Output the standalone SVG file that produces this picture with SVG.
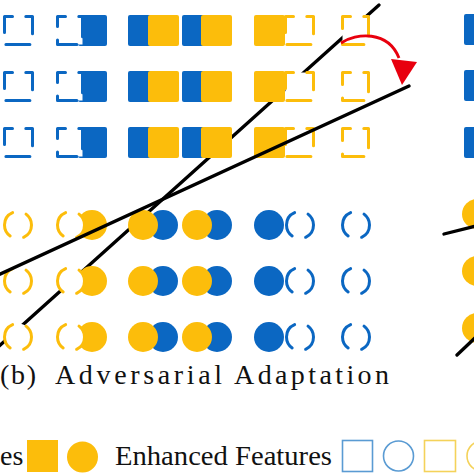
<svg xmlns="http://www.w3.org/2000/svg" width="474" height="474" viewBox="0 0 474 474">
<style>
.b{fill:#0b67c2}
.y{fill:#fcbd0b}
.dsb{fill:#fff;stroke:#0b67c2;stroke-width:3;stroke-dasharray:24 13.3;stroke-dashoffset:16;stroke-linecap:round;stroke-linejoin:round}
.dsy{fill:#fff;stroke:#fcbd0b;stroke-width:3;stroke-dasharray:24 13.3;stroke-dashoffset:16;stroke-linecap:round;stroke-linejoin:round}
.dcb{fill:#fff;stroke:#0b67c2;stroke-width:3;stroke-dasharray:28.3 14.1;stroke-dashoffset:13;stroke-linecap:round}
.dcy{fill:#fff;stroke:#fcbd0b;stroke-width:3;stroke-dasharray:28.3 14.1;stroke-dashoffset:13;stroke-linecap:round}
.ln{stroke:#000;stroke-width:3.3;fill:none;stroke-linecap:round}
.t{font-family:"Liberation Serif","DejaVu Serif",serif;fill:#111}
.ob{fill:none;stroke:#5a9bd3;stroke-width:1.6}
.oy{fill:none;stroke:#f4d25a;stroke-width:1.6}
</style>
<rect width="474" height="474" fill="#fff"/>
<g id="connectors-behind">
<line class="ln" x1="379" y1="5" x2="-2" y2="347"/>
</g>
<g id="square-rows">
<g id="sq-row1">
<rect class="dsb" x="4.5" y="16.5" width="28" height="28"/>
<rect class="b" x="78" y="15" width="29" height="31" rx="2"/>
<rect class="dsb" x="57.5" y="16.5" width="25" height="28"/>
<rect class="b" x="128" y="15" width="31" height="31" rx="2"/>
<rect class="y" x="148" y="15" width="31" height="31" rx="2"/>
<rect class="b" x="182" y="15" width="31" height="31" rx="2"/>
<rect class="y" x="201" y="15" width="31" height="31" rx="2"/>
<rect class="dsy" x="285.5" y="16.5" width="28" height="28"/>
<rect class="y" x="254" y="15" width="31" height="31" rx="2"/>
<rect class="dsy" x="342.5" y="16.5" width="26" height="28"/>
<rect class="b" x="464" y="14" width="31" height="31" rx="2"/>
</g>
<g id="sq-row2">
<rect class="dsb" x="4.5" y="72.5" width="28" height="28"/>
<rect class="b" x="78" y="71" width="29" height="31" rx="2"/>
<rect class="dsb" x="57.5" y="72.5" width="25" height="28"/>
<rect class="b" x="128" y="71" width="31" height="31" rx="2"/>
<rect class="y" x="148" y="71" width="31" height="31" rx="2"/>
<rect class="b" x="182" y="71" width="31" height="31" rx="2"/>
<rect class="y" x="201" y="71" width="31" height="31" rx="2"/>
<rect class="dsy" x="285.5" y="72.5" width="28" height="28"/>
<rect class="y" x="254" y="71" width="31" height="31" rx="2"/>
<rect class="dsy" x="342.5" y="72.5" width="26" height="28"/>
<rect class="b" x="464" y="70" width="31" height="31" rx="2"/>
</g>
<g id="sq-row3">
<rect class="dsb" x="4.5" y="128.5" width="28" height="28"/>
<rect class="b" x="78" y="127" width="29" height="31" rx="2"/>
<rect class="dsb" x="57.5" y="128.5" width="25" height="28"/>
<rect class="b" x="128" y="127" width="31" height="31" rx="2"/>
<rect class="y" x="148" y="127" width="31" height="31" rx="2"/>
<rect class="b" x="182" y="127" width="31" height="31" rx="2"/>
<rect class="y" x="201" y="127" width="31" height="31" rx="2"/>
<rect class="dsy" x="285.5" y="128.5" width="28" height="28"/>
<rect class="y" x="254" y="127" width="31" height="31" rx="2"/>
<rect class="dsy" x="342.5" y="128.5" width="26" height="28"/>
<rect class="b" x="464" y="127" width="31" height="31" rx="2"/>
</g>
</g>
<g id="circle-rows">
<g id="ci-row1">
<circle class="dcy" cx="18" cy="225" r="13.5"/>
<circle class="y" cx="92" cy="225" r="15"/>
<circle class="dcy" cx="71" cy="225" r="13.5"/>
<circle class="b" cx="163" cy="225" r="15"/>
<circle class="y" cx="143" cy="225" r="15"/>
<circle class="b" cx="217" cy="225" r="15"/>
<circle class="y" cx="197" cy="225" r="15"/>
<circle class="dcb" cx="300" cy="225" r="13.5"/>
<circle class="b" cx="269" cy="225" r="15"/>
<circle class="dcb" cx="356" cy="225" r="13.5"/>
<circle class="y" cx="477" cy="214" r="15"/>
</g>
<g id="ci-row2">
<circle class="dcy" cx="18" cy="281" r="13.5"/>
<circle class="y" cx="92" cy="281" r="15"/>
<circle class="dcy" cx="71" cy="281" r="13.5"/>
<circle class="b" cx="163" cy="281" r="15"/>
<circle class="y" cx="143" cy="281" r="15"/>
<circle class="b" cx="217" cy="281" r="15"/>
<circle class="y" cx="197" cy="281" r="15"/>
<circle class="dcb" cx="300" cy="281" r="13.5"/>
<circle class="b" cx="269" cy="281" r="15"/>
<circle class="dcb" cx="356" cy="281" r="13.5"/>
<circle class="y" cx="477" cy="271" r="15"/>
</g>
<g id="ci-row3">
<circle class="dcy" cx="18" cy="337" r="13.5"/>
<circle class="y" cx="92" cy="337" r="15"/>
<circle class="dcy" cx="71" cy="337" r="13.5"/>
<circle class="b" cx="163" cy="337" r="15"/>
<circle class="y" cx="143" cy="337" r="15"/>
<circle class="b" cx="217" cy="337" r="15"/>
<circle class="y" cx="197" cy="337" r="15"/>
<circle class="dcb" cx="300" cy="337" r="13.5"/>
<circle class="b" cx="269" cy="337" r="15"/>
<circle class="dcb" cx="356" cy="337" r="13.5"/>
<circle class="y" cx="477" cy="328" r="15"/>
</g>
</g>
<g id="connectors">
<line class="ln" x1="409" y1="86" x2="-2" y2="275"/>
<line class="ln" x1="444" y1="234" x2="476" y2="226"/>
<line class="ln" x1="457" y1="355" x2="476" y2="337"/>
<path d="M341,43 C356,33 388,30 399,58" fill="none" stroke="#e8000e" stroke-width="2.8"/>
<polygon points="391,59 417,62 402,85" fill="#e8000e"/>
</g>
<g id="caption">
<text class="t" x="0" y="384" font-size="28" textLength="36" lengthAdjust="spacing">(b)</text>
<text class="t" x="55" y="384" font-size="28" textLength="167" lengthAdjust="spacing">Adversarial</text>
<text class="t" x="234" y="384" font-size="28" textLength="155" lengthAdjust="spacing">Adaptation</text>
</g>
<g id="legend">
<text class="t" x="0" y="465" font-size="28">es</text>
<rect class="y" x="27" y="440" width="31" height="32"/>
<circle class="y" cx="82.5" cy="457" r="15.5"/>
<text class="t" x="115" y="465" font-size="28" textLength="217" lengthAdjust="spacingAndGlyphs">Enhanced Features</text>
<rect class="ob" x="342.5" y="440.5" width="30" height="31"/>
<circle class="ob" cx="398.5" cy="456" r="15"/>
<rect class="oy" x="424.5" y="440.5" width="31" height="31"/>
<circle class="oy" cx="482" cy="456" r="15"/>
</g>
</svg>
